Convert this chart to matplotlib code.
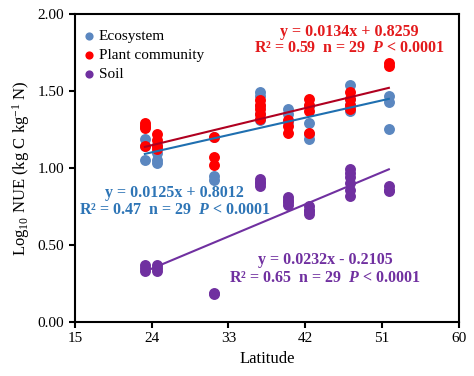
import numpy as np
import matplotlib
matplotlib.use("Agg")
import matplotlib.pyplot as plt

plt.rcParams["font.family"] = ["Liberation Serif", "DejaVu Serif"]
plt.rcParams["mathtext.fontset"] = "custom"
plt.rcParams["mathtext.rm"] = "Liberation Serif"
plt.rcParams["mathtext.it"] = "Liberation Serif:italic"
plt.rcParams["mathtext.bf"] = "Liberation Serif:bold"
plt.rcParams["mathtext.bfit"] = "Liberation Serif:italic:bold"

# data (latitude, log10 NUE)
eco_lat = [23.2, 23.2, 23.2, 23.2, 24.6, 24.6, 24.6, 24.6, 31.3, 31.3, 31.3,
           36.7, 36.7, 36.7, 36.7, 36.7, 40.0, 40.0, 40.0, 42.4, 42.4, 42.4, 42.4,
           47.2, 47.2, 47.2, 47.2, 51.8, 51.8, 51.8]
eco_val = [1.19, 1.05, 1.27, 1.14, 1.10, 1.05, 1.03, 1.15, 1.20, 0.95, 0.92,
           1.49, 1.47, 1.40, 1.35, 1.31, 1.38, 1.35, 1.30, 1.29, 1.19, 1.40, 1.22,
           1.54, 1.37, 1.45, 1.41, 1.47, 1.43, 1.25]

plant_lat = [23.2, 23.2, 23.2, 23.2, 24.6, 24.6, 24.6, 24.6, 31.3, 31.3, 31.3,
             36.7, 36.7, 36.7, 36.7, 36.7, 40.0, 40.0, 40.0, 42.4, 42.4, 42.4, 42.4,
             47.2, 47.2, 47.2, 47.2, 51.8, 51.8]
plant_val = [1.29, 1.26, 1.14, 1.27, 1.22, 1.18, 1.14, 1.12, 1.20, 1.07, 1.02,
             1.44, 1.41, 1.38, 1.35, 1.32, 1.31, 1.27, 1.23, 1.45, 1.41, 1.37, 1.23,
             1.49, 1.45, 1.41, 1.38, 1.68, 1.66]

soil_lat = [23.2, 23.2, 23.2, 24.6, 24.6, 24.6, 31.3, 31.3,
            36.7, 36.7, 36.7, 36.7, 40.0, 40.0, 40.0, 40.0, 42.4, 42.4, 42.4, 42.4,
            47.2, 47.2, 47.2, 47.2, 47.2, 47.2, 51.8, 51.8, 51.8]
soil_val = [0.37, 0.33, 0.35, 0.37, 0.33, 0.35, 0.19, 0.18,
            0.93, 0.90, 0.88, 0.91, 0.81, 0.78, 0.76, 0.79, 0.75, 0.72, 0.70, 0.73,
            0.99, 0.94, 0.90, 0.86, 0.82, 0.97, 0.88, 0.86, 0.85]

# fitted lines as printed on the chart
slopes = [0.0125, 0.0134, 0.0232]
intercepts = [0.8012, 0.8259, -0.2105]

fig = plt.figure(figsize=(4.74, 3.76), dpi=100)
ax = fig.add_axes([0.158, 0.1436, 0.81, 0.8194])

c_eco = "#5b87c0"
c_plant = "#ff0000"
c_soil = "#7030a0"
line_cols = ["#1f6fb0", "#b00020", "#7030a0"]

ax.scatter(eco_lat, eco_val, s=62, color=c_eco, label="Ecosystem", zorder=3, linewidths=0)
ax.scatter(plant_lat, plant_val, s=62, color=c_plant, label="Plant community", zorder=4, linewidths=0)
ax.scatter(soil_lat, soil_val, s=62, color=c_soil, label="Soil", zorder=3, linewidths=0)

xs = np.array([23.2, 51.8])
for k in range(3):
    ax.plot(xs, slopes[k] * xs + intercepts[k], color=line_cols[k], lw=1.5, zorder=5)

# equations
ax.text(47.2, 1.883, "y = 0.0134x + 0.8259", color="#e31a1c", fontsize=11.5,
        fontweight="bold", ha="center", va="center")
ax.text(47.2, 1.779, r"R² = 0.59  n = 29  $\mathbfit{P}$ < 0.0001", color="#e31a1c",
        fontsize=11.5, fontweight="bold", ha="center", va="center")
ax.text(26.7, 0.838, "y = 0.0125x + 0.8012", color="#2e75b6", fontsize=11.5,
        fontweight="bold", ha="center", va="center")
ax.text(26.7, 0.727, r"R² = 0.47  n = 29  $\mathbfit{P}$ < 0.0001", color="#2e75b6",
        fontsize=11.5, fontweight="bold", ha="center", va="center")
ax.text(44.3, 0.403, "y = 0.0232x - 0.2105", color="#7030a0", fontsize=11.5,
        fontweight="bold", ha="center", va="center")
ax.text(44.3, 0.286, r"R² = 0.65  n = 29  $\mathbfit{P}$ < 0.0001", color="#7030a0",
        fontsize=11.5, fontweight="bold", ha="center", va="center")

ax.set_xlim(15, 60)
ax.set_ylim(0, 2)
ax.set_xticks([15, 24, 33, 42, 51, 60])
ax.set_yticks([0, 0.5, 1.0, 1.5, 2.0])
ax.set_yticklabels(["0.00", "0.50", "1.00", "1.50", "2.00"])
ax.tick_params(direction="out", length=4, width=1.5, labelsize=11, colors="black")
for s in ax.spines.values():
    s.set_linewidth(1.5)

ax.set_xlabel("Latitude", fontsize=12)
ax.set_ylabel(r"Log$_{10}$ NUE (kg C kg$^{-1}$ N)", fontsize=12)

ax.legend(loc="upper left", bbox_to_anchor=(-0.01, 0.985), frameon=False, fontsize=11,
          handletextpad=0.1, labelspacing=0.35, borderpad=0.2, markerscale=0.75,
          handlelength=1.0)

fig.savefig("out.png", dpi=100)
